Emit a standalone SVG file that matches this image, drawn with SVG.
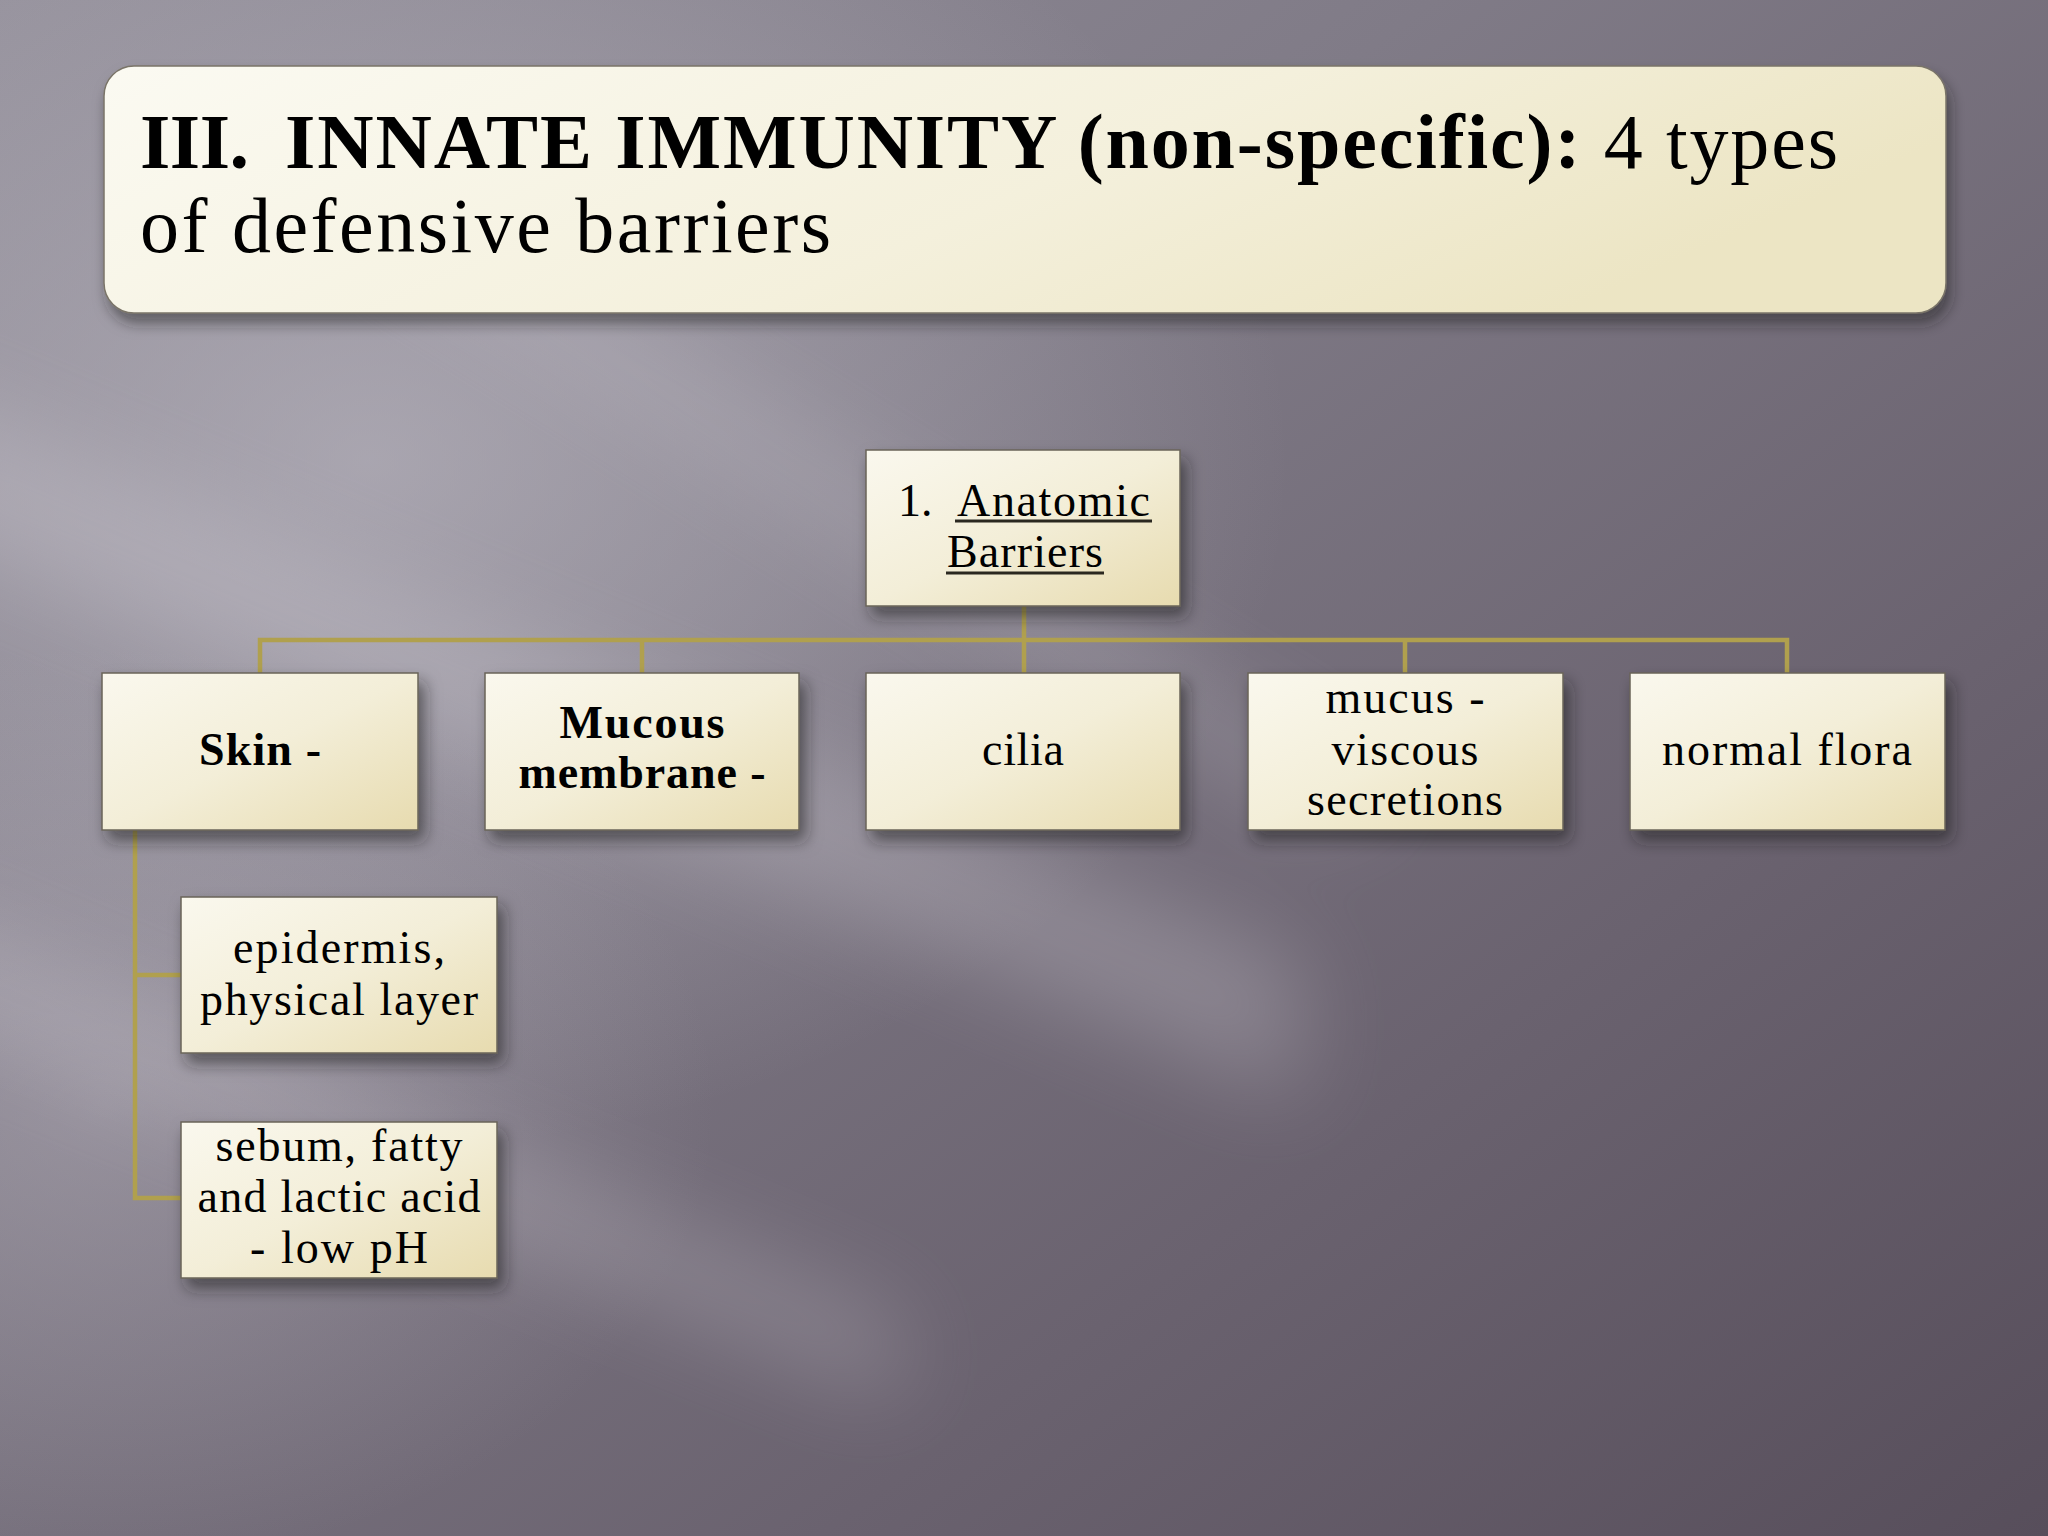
<svg xmlns="http://www.w3.org/2000/svg" width="2048" height="1536" viewBox="0 0 2048 1536">
  <defs>
    <linearGradient id="bg" x1="0" y1="0" x2="1" y2="1">
      <stop offset="0" stop-color="#928e99"/>
      <stop offset="0.35" stop-color="#807b87"/>
      <stop offset="0.7" stop-color="#6a626f"/>
      <stop offset="1" stop-color="#574e5b"/>
    </linearGradient>
    <radialGradient id="glow1" cx="0.18" cy="0.3" r="0.45">
      <stop offset="0" stop-color="#c6c3cc" stop-opacity="0.55"/>
      <stop offset="1" stop-color="#c6c3cc" stop-opacity="0"/>
    </radialGradient>
    <radialGradient id="glow2" cx="0.05" cy="0.72" r="0.3">
      <stop offset="0" stop-color="#bdb8c2" stop-opacity="0.4"/>
      <stop offset="1" stop-color="#bdb8c2" stop-opacity="0"/>
    </radialGradient>
    <filter id="blur" x="-20%" y="-20%" width="140%" height="140%">
      <feGaussianBlur stdDeviation="45"/>
    </filter>
    <linearGradient id="boxfill" x1="0" y1="0" x2="1" y2="1">
      <stop offset="0" stop-color="#faf8ee"/>
      <stop offset="0.5" stop-color="#f3eed8"/>
      <stop offset="1" stop-color="#e7dbaf"/>
    </linearGradient>
    <linearGradient id="titlefill" x1="0" y1="0" x2="1" y2="0.3">
      <stop offset="0" stop-color="#fbfaf2"/>
      <stop offset="0.6" stop-color="#f4f0dc"/>
      <stop offset="1" stop-color="#ece5c4"/>
    </linearGradient>
    <filter id="shadow" x="-10%" y="-10%" width="130%" height="140%">
      <feDropShadow dx="6" dy="10" stdDeviation="8" flood-color="#1e1a22" flood-opacity="0.55"/>
    </filter>
    <filter id="tshadow" x="-5%" y="-10%" width="110%" height="140%">
      <feDropShadow dx="4" dy="10" stdDeviation="7" flood-color="#1e1a22" flood-opacity="0.5"/>
    </filter>
  </defs>
  <style>
    .box { fill: url(#boxfill); stroke: #6a6458; stroke-width: 1.5; filter: url(#shadow); }
    .t { font-family: "Liberation Serif", "Times New Roman", serif; font-size: 46px; fill: #000; text-anchor: middle; }
    .b { font-weight: bold; }
    .conn { fill: none; stroke: #b0a04e; stroke-width: 4.5; stroke-linejoin: miter; }
    .ul { stroke: #2a2820; stroke-width: 3; }
    .title { font-family: "Liberation Serif", "Times New Roman", serif; font-size: 78px; fill: #000; }
  </style>

  <!-- background -->
  <rect x="0" y="0" width="2048" height="1536" fill="url(#bg)"/>
  <rect x="0" y="0" width="2048" height="1536" fill="url(#glow1)"/>
  <rect x="0" y="0" width="2048" height="1536" fill="url(#glow2)"/>
  <g filter="url(#blur)" opacity="0.28">
    <polygon points="-100,380 -100,520 1300,1100 1300,960" fill="#d4d0d8"/>
    <polygon points="-100,900 -100,1000 900,1400 900,1320" fill="#d0ccd4"/>
    <polygon points="300,200 420,200 1400,800 1300,820" fill="#c8c4cc"/>
  </g>

  <!-- title -->
  <g id="title">
    <rect x="104" y="66" width="1842" height="247" rx="30" ry="30" fill="url(#titlefill)" stroke="#7a7468" stroke-width="1.5" filter="url(#tshadow)"/>
    <text class="title" x="140" y="168" font-weight="bold" textLength="109" lengthAdjust="spacing">III.</text>
    <text class="title" x="285" y="168" textLength="1553" lengthAdjust="spacing"><tspan font-weight="bold">INNATE IMMUNITY (non-specific):</tspan> 4 types</text>
    <text class="title" x="140" y="252" textLength="691" lengthAdjust="spacing">of defensive barriers</text>
  </g>

  <!-- connectors -->
  <g id="connectors">
    <path class="conn" d="M1024 606 V673"/>
    <path class="conn" d="M260 673 V640 H1787 V673"/>
    <path class="conn" d="M642 640 V673"/>
    <path class="conn" d="M1405 640 V673"/>
    <path class="conn" d="M135 830 V1198 H181"/>
    <path class="conn" d="M135 975 H181"/>
  </g>

  <!-- nodes -->
  <g id="node-anatomic">
    <rect class="box" x="866" y="450" width="314" height="156"/>
    <text class="t" x="898" y="516" style="text-anchor:start">1.</text>
    <text class="t" x="957" y="516" style="text-anchor:start" textLength="193" lengthAdjust="spacing">Anatomic</text>
    <line class="ul" x1="955" y1="521" x2="1152" y2="521"/>
    <text class="t" x="947" y="567" style="text-anchor:start" textLength="156" lengthAdjust="spacing">Barriers</text>
    <line class="ul" x1="946" y1="573" x2="1104" y2="573"/>
  </g>

  <g id="node-skin">
    <rect class="box" x="102" y="673" width="316" height="157"/>
    <text class="t b" x="260" y="765" textLength="122" lengthAdjust="spacing">Skin -</text>
  </g>

  <g id="node-mucous">
    <rect class="box" x="485" y="673" width="314" height="157"/>
    <text class="t b" x="642" y="738" textLength="165" lengthAdjust="spacing">Mucous</text>
    <text class="t b" x="642" y="788" textLength="247" lengthAdjust="spacing">membrane -</text>
  </g>

  <g id="node-cilia">
    <rect class="box" x="866" y="673" width="314" height="157"/>
    <text class="t" x="1023" y="765" textLength="82" lengthAdjust="spacing">cilia</text>
  </g>

  <g id="node-mucus">
    <rect class="box" x="1248" y="673" width="315" height="157"/>
    <text class="t" x="1405" y="713" textLength="159" lengthAdjust="spacing">mucus -</text>
    <text class="t" x="1405" y="765" textLength="147" lengthAdjust="spacing">viscous</text>
    <text class="t" x="1405" y="815" textLength="196" lengthAdjust="spacing">secretions</text>
  </g>

  <g id="node-flora">
    <rect class="box" x="1630" y="673" width="315" height="157"/>
    <text class="t" x="1787" y="765" textLength="250" lengthAdjust="spacing">normal flora</text>
  </g>

  <g id="node-epidermis">
    <rect class="box" x="181" y="897" width="316" height="156"/>
    <text class="t" x="339" y="963" textLength="212" lengthAdjust="spacing">epidermis,</text>
    <text class="t" x="339" y="1015" textLength="278" lengthAdjust="spacing">physical layer</text>
  </g>

  <g id="node-sebum">
    <rect class="box" x="181" y="1122" width="316" height="156"/>
    <text class="t" x="339" y="1161" textLength="247" lengthAdjust="spacing">sebum, fatty</text>
    <text class="t" x="339" y="1212" textLength="283" lengthAdjust="spacing">and lactic acid</text>
    <text class="t" x="339" y="1263" textLength="178" lengthAdjust="spacing">- low pH</text>
  </g>
</svg>
